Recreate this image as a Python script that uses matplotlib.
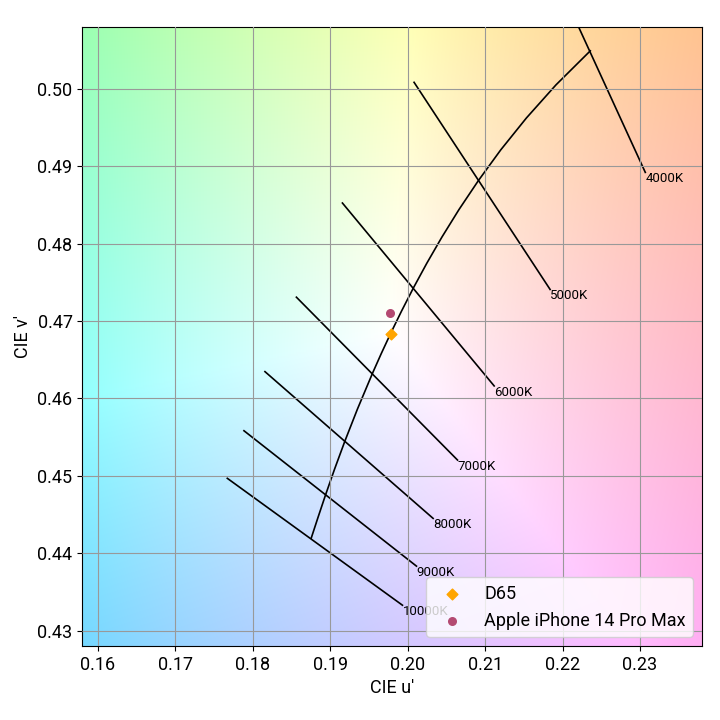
import numpy as np
import matplotlib
matplotlib.use("Agg")
import matplotlib.pyplot as plt

plt.rcParams['font.family'] = ['Roboto', 'DejaVu Sans']

# Daylight locus (CIE u', v') from 4000K to 10000K
locus_cct = [4000, 4250, 4500, 4750, 5000, 5250, 5500, 5750, 6000, 6250,
             6500, 6750, 7000, 7500, 8000, 8500, 9000, 9500, 10000]
locus_u = [0.22358, 0.21915, 0.21533, 0.21202, 0.20914, 0.20663, 0.20442,
           0.20247, 0.20074, 0.19920, 0.19782, 0.19658, 0.19546,
           0.19352, 0.19191, 0.19056, 0.18941, 0.18842, 0.18755]
locus_v = [0.50492, 0.50052, 0.49624, 0.49212, 0.48816, 0.48441, 0.48084,
           0.47746, 0.47427, 0.47126, 0.46843, 0.46576, 0.46324,
           0.45862, 0.45451, 0.45084, 0.44755, 0.44459, 0.44193]

# Isotemperature lines: start and end points
iso_labels = ["4000K", "5000K", "6000K", "7000K", "8000K", "9000K", "10000K"]
iso_u0 = [0.21707, 0.20083, 0.19158, 0.18564, 0.18158, 0.17887, 0.17672]
iso_v0 = [0.51892, 0.50085, 0.48525, 0.47308, 0.46346, 0.45582, 0.44967]
iso_u1 = [0.23068, 0.21839, 0.21117, 0.20644, 0.20329, 0.20114, 0.19933]
iso_v1 = [0.48921, 0.47408, 0.46161, 0.45203, 0.44449, 0.43832, 0.43327]

# Measured points
point_names = ["D65", "Apple iPhone 14 Pro Max"]
point_u = [0.1978, 0.1977]
point_v = [0.4683, 0.4711]

xlim = (0.158, 0.238)
ylim = (0.428, 0.508)


def uv_to_rgb(u, v):
    d = 6 * u - 16 * v + 12
    x = 9 * u / d
    y = 4 * v / d
    X = x / y
    Y = np.ones_like(x)
    Z = (1 - x - y) / y
    M = np.array([[3.2406, -1.5372, -0.4986],
                  [-0.9689, 1.8758, 0.0415],
                  [0.0557, -0.2040, 1.0570]])
    XYZ = np.stack([X, Y, Z], axis=-1)
    rgb = XYZ @ M.T
    enc = np.where(rgb <= 0.0031308, rgb * 12.92,
                   1.055 * np.abs(rgb) ** (1 / 2.4) - 0.055)
    enc = enc / enc.max(axis=-1, keepdims=True)
    return np.clip(enc, 0, 1)


gu, gv = np.meshgrid(np.linspace(xlim[0], xlim[1], 300),
                     np.linspace(ylim[0], ylim[1], 300))
bg = uv_to_rgb(gu, gv)

fig = plt.figure(figsize=(7.2, 7.2), dpi=100)
ax = fig.add_axes([0.1143, 0.1028, 0.8607, 0.8597])
ax.imshow(bg, extent=(xlim[0], xlim[1], ylim[0], ylim[1]), origin='lower',
          aspect='auto', interpolation='bilinear', zorder=0)

ax.grid(True, color='#999999', lw=0.8, zorder=1)
ax.set_axisbelow(False)

ax.plot(locus_u, locus_v, color='black', lw=1.2, zorder=2)
for lab, u0, v0, u1, v1 in zip(iso_labels, iso_u0, iso_v0, iso_u1, iso_v1):
    ax.plot([u0, u1], [v0, v1], color='black', lw=1.2, zorder=2)
    ax.text(u1, v1, lab, fontsize=9.5, ha='left', va='top', zorder=3)

ax.scatter(point_u[0], point_v[0], marker='D', s=30, color='orange',
           label=point_names[0], zorder=4)
ax.scatter(point_u[1], point_v[1], marker='o', s=30, color='#b44a72',
           label=point_names[1], zorder=4)

ax.set_xlim(*xlim)
ax.set_ylim(*ylim)
ax.set_xticks([0.16, 0.17, 0.18, 0.19, 0.20, 0.21, 0.22, 0.23])
ax.set_yticks([0.43, 0.44, 0.45, 0.46, 0.47, 0.48, 0.49, 0.50])
ax.tick_params(labelsize=13)
ax.set_xlabel("CIE u'", fontsize=13)
ax.set_ylabel("CIE v'", fontsize=13)
ax.legend(loc='lower right', fontsize=13)

fig.savefig("out.png", dpi=100)
